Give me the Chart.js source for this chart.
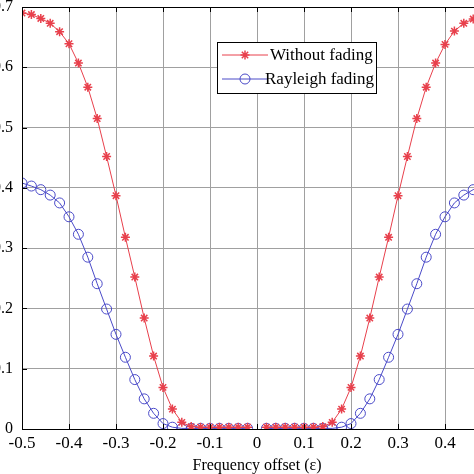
<!DOCTYPE html>
<html>
<head>
<meta charset="utf-8">
<script src="https://cdn.jsdelivr.net/npm/chart.js@4/dist/chart.umd.min.js"></script>
<style>
  html, body { margin: 0; padding: 0; width: 474px; height: 474px; overflow: hidden; background: #fff; }
  #wrap { position: absolute; left: -20px; top: 0; width: 530px; height: 480px; }
</style>
</head>
<body>
<div id="wrap"><canvas id="chart1" width="530" height="480"></canvas></div>
<script>
// frequency offset values (epsilon); the curve is broken at 0
const offsets = [-0.5, -0.48, -0.46, -0.44, -0.42, -0.4, -0.38, -0.36, -0.34, -0.32, -0.3,
  -0.28, -0.26, -0.24, -0.22, -0.2, -0.18, -0.16, -0.14, -0.12, -0.1, -0.08, -0.06, -0.04, -0.02, 0,
  0.02, 0.04, 0.06, 0.08, 0.1, 0.12, 0.14, 0.16, 0.18, 0.2, 0.22, 0.24, 0.26, 0.28, 0.3,
  0.32, 0.34, 0.36, 0.38, 0.4, 0.42, 0.44, 0.46, 0.48, 0.5];

const withoutFading = [0.690, 0.6875, 0.681, 0.673, 0.659, 0.639, 0.607, 0.567, 0.515, 0.452, 0.387,
  0.318, 0.252, 0.184, 0.121, 0.069, 0.033, 0.011, 0.004, 0.003, 0.003, 0.003, 0.003, 0.003, 0.003, null,
  0.003, 0.003, 0.003, 0.003, 0.003, 0.003, 0.004, 0.011, 0.033, 0.069, 0.121, 0.184, 0.252, 0.318, 0.387,
  0.452, 0.515, 0.567, 0.607, 0.638, 0.660, 0.673, 0.680, 0.6875, 0.690];

const rayleighFading = [0.408, 0.403, 0.397, 0.388, 0.375, 0.352, 0.323, 0.285, 0.241, 0.199, 0.157,
  0.119, 0.082, 0.050, 0.026, 0.009, 0.003, 0.001, 0.001, 0.001, 0.001, 0.001, 0.001, 0.001, 0.001, null,
  0.001, 0.001, 0.001, 0.001, 0.001, 0.001, 0.001, 0.001, 0.003, 0.009, 0.026, 0.050, 0.082, 0.119, 0.157,
  0.199, 0.241, 0.285, 0.323, 0.352, 0.375, 0.388, 0.397, 0.403, 0.408];

const seriesNames = ['Without fading', 'Rayleigh fading'];
const xTicks = [-0.5, -0.4, -0.3, -0.2, -0.1, 0, 0.1, 0.2, 0.3, 0.4, 0.5];
const yTicks = [0, 0.1, 0.2, 0.3, 0.4, 0.5, 0.6, 0.7];
const xTitle = 'Frequency offset (\u03b5)';

const RED = '#e8404c';
const BLUE = '#4a4ac8';
const SERIF = '"Liberation Serif", "Times New Roman", serif';

function toPoints(ys) {
  return offsets.map((x, i) => ({ x: x, y: ys[i] }));
}

function fmt(v) {
  if (Math.abs(v) < 1e-9) return '0';
  return (Math.round(v * 10) / 10).toFixed(1);
}

// box around the axes, inward tick marks and the legend box
const framePlugin = {
  id: 'frame',
  afterDatasetsDraw(chart) {
    const ctx = chart.ctx;
    const a = chart.chartArea;
    const xs = chart.scales.x, ys = chart.scales.y;
    ctx.save();
    ctx.strokeStyle = '#000';
    ctx.lineWidth = 1;
    ctx.strokeRect(a.left + 0.5, a.top + 0.5, a.right - a.left, a.bottom - a.top);
    ctx.beginPath();
    xTicks.forEach(v => {
      const px = Math.round(xs.getPixelForValue(v)) + 0.5;
      ctx.moveTo(px, a.bottom); ctx.lineTo(px, a.bottom - 5);
      ctx.moveTo(px, a.top); ctx.lineTo(px, a.top + 5);
    });
    yTicks.forEach(v => {
      const py = Math.round(ys.getPixelForValue(v)) + 0.5;
      ctx.moveTo(a.left, py); ctx.lineTo(a.left + 5, py);
      ctx.moveTo(a.right, py); ctx.lineTo(a.right - 5, py);
    });
    ctx.stroke();

    // legend
    const lx = a.left + 195, ly = a.top + 35, lw = 159, lh = 51;
    ctx.fillStyle = '#fff';
    ctx.fillRect(lx, ly, lw, lh);
    ctx.strokeStyle = '#000';
    ctx.strokeRect(lx + 0.5, ly + 0.5, lw, lh);
    ctx.font = '17px ' + SERIF;
    ctx.textBaseline = 'middle';
    ctx.textAlign = 'left';
    chart.data.datasets.forEach((ds, i) => {
      const cy = ly + 13 + i * 24;
      ctx.strokeStyle = ds.borderColor;
      ctx.lineWidth = 1;
      ctx.beginPath();
      ctx.moveTo(lx + 5, cy); ctx.lineTo(lx + 51, cy);
      ctx.stroke();
      ctx.strokeStyle = ds.pointBorderColor;
      ctx.fillStyle = ds.pointBackgroundColor;
      ctx.lineWidth = ds.pointBorderWidth;
      Chart.helpers.drawPoint(ctx, {
        pointStyle: ds.pointStyle, radius: ds.pointRadius, borderWidth: ds.pointBorderWidth
      }, lx + 28, cy);
      ctx.fillStyle = '#000';
      ctx.fillText(ds.label, lx + (i === 0 ? 53 : 48), cy + 1);
    });
    ctx.restore();
  }
};

const ctx = document.getElementById('chart1').getContext('2d');
const myChart = new Chart(ctx, {
  type: 'line',
  data: {
    datasets: [{
      label: seriesNames[0],
      data: toPoints(withoutFading),
      borderColor: RED,
      backgroundColor: RED,
      borderWidth: 1,
      pointStyle: 'star',
      pointRadius: 4.5,
      pointBorderWidth: 1.5,
      pointBorderColor: RED,
      pointBackgroundColor: RED,
      tension: 0,
      spanGaps: false
    }, {
      label: seriesNames[1],
      data: toPoints(rayleighFading),
      borderColor: BLUE,
      backgroundColor: 'rgba(0,0,0,0)',
      borderWidth: 1,
      pointStyle: 'circle',
      pointRadius: 5,
      pointBorderWidth: 1,
      pointBorderColor: BLUE,
      pointBackgroundColor: 'rgba(0,0,0,0)',
      tension: 0,
      spanGaps: false
    }]
  },
  options: {
    responsive: false,
    animation: false,
    layout: { padding: { top: 7, right: 18, left: 0, bottom: 0 } },
    plugins: { legend: { display: false }, tooltip: { enabled: false } },
    scales: {
      x: {
        type: 'linear',
        min: -0.5, max: 0.5,
        afterBuildTicks: s => { s.ticks = xTicks.map(v => ({ value: v })); },
        afterFit: s => { s.height = 51; s.paddingLeft = 0; s.paddingRight = 0; },
        grid: { color: '#a0a0a0', lineWidth: 1, drawTicks: false },
        border: { color: '#000', width: 1 },
        ticks: {
          padding: 4,
          color: '#000',
          font: { family: SERIF, size: 17 },
          callback: v => fmt(v),
          maxRotation: 0, autoSkip: false
        },
        title: {
          display: true,
          text: xTitle,
          color: '#000',
          font: { family: SERIF, size: 16 },
          padding: { top: 0, bottom: 5 }
        }
      },
      y: {
        min: 0, max: 0.7,
        afterBuildTicks: s => { s.ticks = yTicks.map(v => ({ value: v })); },
        afterFit: s => { s.width = 42; s.paddingTop = 0; s.paddingBottom = 0; },
        grid: { color: '#a0a0a0', lineWidth: 1, drawTicks: false },
        border: { color: '#000', width: 1 },
        ticks: {
          padding: 9,
          color: '#000',
          font: { family: SERIF, size: 16 },
          callback: v => fmt(v),
          autoSkip: false
        }
      }
    }
  },
  plugins: [framePlugin]
});
</script>
</body>
</html>
